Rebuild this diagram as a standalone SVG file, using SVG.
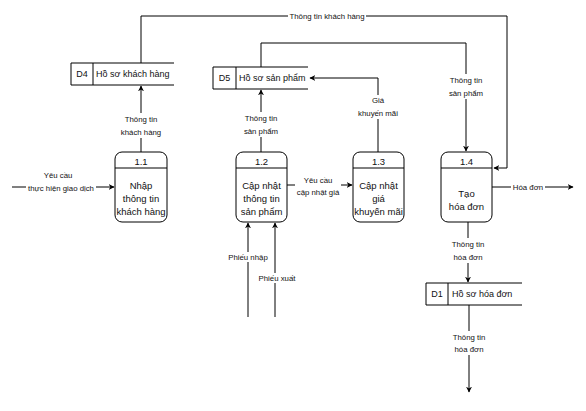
<svg xmlns="http://www.w3.org/2000/svg" width="586" height="411" viewBox="0 0 586 411">
<defs>
<marker id="arr" viewBox="0 0 10 10" refX="9" refY="5" markerWidth="6" markerHeight="6" orient="auto" markerUnits="userSpaceOnUse">
<path d="M0,0 L10,5 L0,10 L3,5 Z" fill="#000"/>
</marker>
<style>
.ln{fill:none;stroke:#000;stroke-width:1}
.pr{fill:#fff;stroke:#000;stroke-width:1}
.t{font-family:"Liberation Sans",Arial,sans-serif;fill:#111;text-anchor:middle;dominant-baseline:central}
.pt{font-size:9.5px}
.st{font-size:9px}
.lb{font-size:7.8px}
.bg{fill:#fff}
</style>
</defs>
<rect width="586" height="411" fill="#fff"/>

<g id="connectors">
<path class="ln" d="M141,63 V16 H507 V168 H494" marker-end="url(#arr)"/>
<path class="ln" d="M261,67 V43 H466 V151" marker-end="url(#arr)"/>
<path class="ln" d="M378,152 V78 H310" marker-end="url(#arr)"/>
<path class="ln" d="M141,152 V86" marker-end="url(#arr)"/>
<path class="ln" d="M261,152 V90" marker-end="url(#arr)"/>
<path class="ln" d="M12,187 H114" marker-end="url(#arr)"/>
<path class="ln" d="M248,317 V223" marker-end="url(#arr)"/>
<path class="ln" d="M275,317 V223" marker-end="url(#arr)"/>
<path class="ln" d="M287,185 H352" marker-end="url(#arr)"/>
<path class="ln" d="M492,187 H573" marker-end="url(#arr)"/>
<path class="ln" d="M468,222 V282" marker-end="url(#arr)"/>
<path class="ln" d="M469,305 V392" marker-end="url(#arr)"/>

<rect class="bg" x="288" y="11" width="78" height="10"/>
<text class="t lb" x="327" y="16">Thông tin khách hàng</text>

<rect class="bg" x="445" y="74" width="42" height="25"/>
<text class="t lb" x="466" y="80">Thông tin</text>
<text class="t lb" x="466" y="93">sản phẩm</text>

<rect class="bg" x="356" y="95" width="44" height="24"/>
<text class="t lb" x="378" y="100">Giá</text>
<text class="t lb" x="378" y="113">khuyến mãi</text>

<rect class="bg" x="116" y="113" width="50" height="25"/>
<text class="t lb" x="141" y="119">Thông tin</text>
<text class="t lb" x="141" y="132">khách hàng</text>

<rect class="bg" x="239" y="112" width="44" height="25"/>
<text class="t lb" x="261" y="118">Thông tin</text>
<text class="t lb" x="261" y="131">sản phẩm</text>

<rect class="bg" x="26" y="182" width="70" height="10"/>
<text class="t lb" x="58" y="175">Yêu cầu</text>
<text class="t lb" x="61" y="188">thực hiện giao dịch</text>

<rect class="bg" x="226" y="252" width="44" height="10"/>
<text class="t lb" x="248" y="257">Phiếu nhập</text>

<rect class="bg" x="257" y="273" width="40" height="10"/>
<text class="t lb" x="277" y="278">Phiếu xuất</text>

<rect class="bg" x="295" y="175" width="46" height="23"/>
<text class="t lb" x="318" y="180">Yêu cầu</text>
<text class="t lb" x="318" y="192">cập nhật giá</text>

<rect class="bg" x="511" y="182" width="34" height="10"/>
<text class="t lb" x="528" y="187">Hóa đơn</text>

<rect class="bg" x="448" y="238" width="40" height="25"/>
<text class="t lb" x="468" y="244">Thông tin</text>
<text class="t lb" x="468" y="257">hóa đơn</text>

<rect class="bg" x="449" y="331" width="40" height="24"/>
<text class="t lb" x="469" y="337">Thông tin</text>
<text class="t lb" x="469" y="349">hóa đơn</text>
</g>

<g id="D4">
<rect x="71" y="63" width="103" height="22" fill="#fff"/>
<path class="ln" d="M174,63 H71 V85 H174 M93,63 V85"/>
<text class="t st" x="82" y="74">D4</text>
<text class="t st" x="96" y="74" style="text-anchor:start">Hồ sơ khách hàng</text>
</g>

<g id="D5">
<rect x="213" y="67" width="95" height="22" fill="#fff"/>
<path class="ln" d="M308,67 H213 V89 H308 M236,67 V89"/>
<text class="t st" x="224.5" y="78">D5</text>
<text class="t st" x="239" y="78" style="text-anchor:start">Hồ sơ sản phẩm</text>
</g>

<g id="D1">
<rect x="426" y="283" width="96" height="22" fill="#fff"/>
<path class="ln" d="M522,283 H426 V305 H522 M448,283 V305"/>
<text class="t st" x="437" y="294">D1</text>
<text class="t st" x="452" y="294" style="text-anchor:start">Hồ sơ hóa đơn</text>
</g>

<g id="p11">
<rect class="pr" x="115" y="152" width="52" height="70" rx="7"/>
<line class="ln" x1="115" y1="168" x2="167" y2="168"/>
<text class="t pt" x="141" y="161">1.1</text>
<text class="t pt" x="141" y="185">Nhập</text>
<text class="t pt" x="141" y="198">thông tin</text>
<text class="t pt" x="141" y="211">khách hàng</text>
</g>

<g id="p12">
<rect class="pr" x="236" y="152" width="51" height="70" rx="7"/>
<line class="ln" x1="236" y1="168" x2="287" y2="168"/>
<text class="t pt" x="261.5" y="161">1.2</text>
<text class="t pt" x="261.5" y="185">Cập nhật</text>
<text class="t pt" x="261.5" y="198">thông tin</text>
<text class="t pt" x="261.5" y="211">sản phẩm</text>
</g>

<g id="p13">
<rect class="pr" x="353" y="152" width="51" height="70" rx="7"/>
<line class="ln" x1="353" y1="168" x2="404" y2="168"/>
<text class="t pt" x="378.5" y="161">1.3</text>
<text class="t pt" x="378.5" y="185">Cập nhật</text>
<text class="t pt" x="378.5" y="198">giá</text>
<text class="t pt" x="378.5" y="211">khuyến mãi</text>
</g>

<g id="p14">
<rect class="pr" x="441" y="152" width="51" height="70" rx="7"/>
<line class="ln" x1="441" y1="168" x2="492" y2="168"/>
<text class="t pt" x="466.5" y="161">1.4</text>
<text class="t pt" x="466.5" y="193">Tạo</text>
<text class="t pt" x="466.5" y="206">hóa đơn</text>
</g>
</svg>
